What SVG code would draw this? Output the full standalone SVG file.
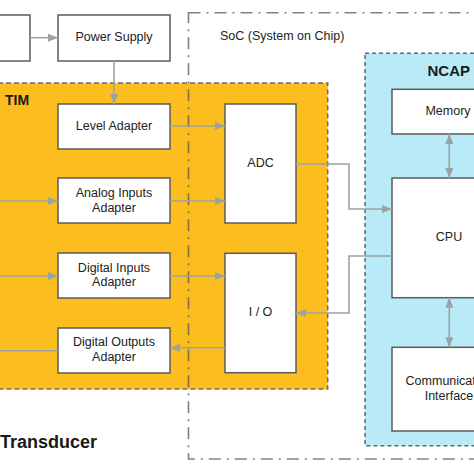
<svg xmlns="http://www.w3.org/2000/svg" width="474" height="474" viewBox="0 0 474 474">
<style>
.box{fill:#ffffff;stroke:#5b5b5b;stroke-width:1.5}
.t{font-family:"Liberation Sans",Arial,sans-serif;font-size:12.5px;fill:#222;text-anchor:middle}
.b{font-family:"Liberation Sans",Arial,sans-serif;font-weight:bold;fill:#1a1a1a}
.c{fill:none;stroke:#98a4a4;stroke-width:1.6}
</style>
<defs>
<marker id="ah" viewBox="0 0 10 10" refX="10" refY="5" markerWidth="10" markerHeight="10" markerUnits="userSpaceOnUse" orient="auto-start-reverse">
<path d="M0,1 L10,5 L0,9 Z" fill="#98a4a4"/>
</marker>
</defs>
<rect width="474" height="474" fill="#ffffff"/>
<g id="tim">
<rect x="-10" y="83" width="337.7" height="306" fill="#fcbd1f" stroke="#6b6b6b" stroke-width="1.5" stroke-dasharray="5 3"/>
<text class="b" x="5" y="105" font-size="14">TIM</text>
</g>
<g id="soc">
<rect x="188.5" y="12.7" width="300" height="446.3" fill="none" stroke="#555" stroke-opacity="0.75" stroke-width="1.6" stroke-dasharray="12 6 2 6"/>
<text class="t" x="220" y="40" style="text-anchor:start">SoC (System on Chip)</text>
</g>
<g id="ncap">
<rect x="365" y="53.3" width="125" height="392.4" fill="#b9eaf8" stroke="#4f6f7a" stroke-width="1.5" stroke-dasharray="4 3"/>
<text class="b" x="470" y="75.5" font-size="15" text-anchor="end">NCAP</text>
</g>
<g id="source"><rect class="box" x="-10" y="15" width="40" height="46"/></g>
<g id="power-supply"><rect class="box" x="58" y="15" width="112" height="46"/><text class="t" x="114" y="40.5">Power Supply</text></g>
<g id="level-adapter"><rect class="box" x="58" y="104" width="112" height="45"/><text class="t" x="114" y="129.5">Level Adapter</text></g>
<g id="analog-inputs-adapter"><rect class="box" x="58" y="178" width="112" height="45"/><text class="t" x="114" y="197">Analog Inputs</text><text class="t" x="114" y="212">Adapter</text></g>
<g id="digital-inputs-adapter"><rect class="box" x="58" y="253" width="112" height="45"/><text class="t" x="114" y="271.5">Digital Inputs</text><text class="t" x="114" y="286">Adapter</text></g>
<g id="digital-outputs-adapter"><rect class="box" x="58" y="328" width="112" height="45"/><text class="t" x="114" y="346">Digital Outputs</text><text class="t" x="114" y="361">Adapter</text></g>
<g id="adc"><rect class="box" x="225" y="104" width="71" height="119"/><text class="t" x="260.5" y="167">ADC</text></g>
<g id="io"><rect class="box" x="225" y="253.3" width="71" height="119.4"/><text class="t" x="260.5" y="316">I / O</text></g>
<g id="memory"><rect class="box" x="392" y="89.3" width="110" height="44.7"/><text class="t" x="448" y="115">Memory</text></g>
<g id="cpu"><rect class="box" x="392" y="178" width="110" height="119.7"/><text class="t" x="449" y="241">CPU</text></g>
<g id="comm"><rect class="box" x="392" y="347.3" width="110" height="83.7"/><text class="t" x="449" y="384.5">Communication</text><text class="t" x="449" y="399.5">Interface</text></g>
<g id="connectors">
<line class="c" x1="30" y1="37.7" x2="58" y2="37.7" marker-end="url(#ah)"/>
<line class="c" x1="114" y1="61" x2="114" y2="104" marker-end="url(#ah)"/>
<line class="c" x1="170" y1="126" x2="225" y2="126" marker-end="url(#ah)"/>
<line class="c" x1="-5" y1="201" x2="58" y2="201" marker-end="url(#ah)"/>
<line class="c" x1="170" y1="201" x2="225" y2="201" marker-end="url(#ah)"/>
<line class="c" x1="-5" y1="276" x2="58" y2="276" marker-end="url(#ah)"/>
<line class="c" x1="170" y1="276" x2="225" y2="276" marker-end="url(#ah)"/>
<line class="c" x1="225" y1="347.7" x2="170" y2="347.7" marker-end="url(#ah)"/>
<line class="c" x1="58" y1="350.7" x2="-5" y2="350.7"/>
<polyline class="c" points="296,164 349,164 349,209 392,209" marker-end="url(#ah)"/>
<polyline class="c" points="392,256 349,256 349,313 296,313" marker-end="url(#ah)"/>
<line class="c" x1="449.3" y1="134" x2="449.3" y2="178" marker-start="url(#ah)" marker-end="url(#ah)"/>
<line class="c" x1="449.3" y1="297.7" x2="449.3" y2="347.3" marker-start="url(#ah)" marker-end="url(#ah)"/>
</g>
<text class="b" x="0" y="448" font-size="18">Transducer</text>
</svg>
